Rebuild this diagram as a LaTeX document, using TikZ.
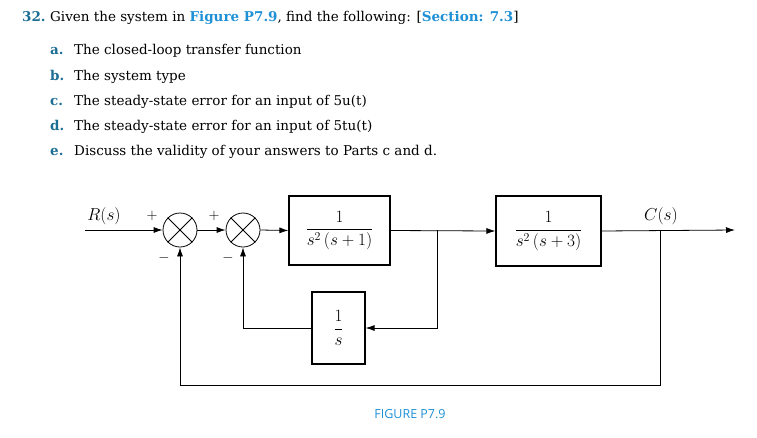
\documentclass[tikz,border=0pt]{standalone}
\usepackage{amsmath}
\usepackage{fontspec}
\setmainfont{DejaVu Serif}
\newfontfamily\sansf{Open Sans}
\newfontfamily\timesf{Liberation Serif}
\usetikzlibrary{arrows.meta}
\definecolor{lnk}{HTML}{1E90D6}
\definecolor{num}{HTML}{1C6E94}
\begin{document}
\begin{tikzpicture}[x=1pt,y=-1pt,
 blk/.style={draw,line width=1.2pt,inner sep=0pt},
 sumn/.style={draw,circle,minimum size=34pt,inner sep=0pt,line width=0.8pt},
 sig/.style={line width=0.8pt,-{Latex[length=9pt,width=6pt]}},
 ln/.style={line width=0.8pt},
 txt/.style={anchor=base west,inner sep=0pt,font=\fontsize{13.5}{15}\selectfont},
 lab/.style={anchor=base west,inner sep=0pt,text=num,font=\fontsize{13.5}{15}\selectfont\bfseries},
 eq/.style={inner sep=0pt,font=\timesf\fontsize{17}{19}\selectfont}]
\useasboundingbox (0,0) rectangle (757,437);
\node[lab] (n32) at (22,21) {32.};
\node[txt] (t0) at (50,21) {Given the system in \textcolor{lnk}{\bfseries Figure P7.9}, find the following: [\textcolor{lnk}{\bfseries Section: 7.3}]};
\node[lab] (la) at (50,54) {a.}; \node[txt] (ta) at (74,54) {The closed-loop transfer function};
\node[lab] (lb) at (50,80) {b.}; \node[txt] (tb) at (74,80) {The system type};
\node[lab] (lc) at (50,105) {c.}; \node[txt] (tc) at (74,105) {The steady-state error for an input of 5u(t)};
\node[lab] (ld) at (50,130) {d.}; \node[txt] (td) at (74,130) {The steady-state error for an input of 5tu(t)};
\node[lab] (le) at (50,155) {e.}; \node[txt] (te) at (74,155) {Discuss the validity of your answers to Parts c and d.};
% diagram
\coordinate (in) at (85,230);
\node[sumn] (s1) at (180,230) {};
\node[sumn] (s2) at (243,230) {};
\foreach \s in {s1,s2}{\draw[ln] (\s.north west)--(\s.south east) (\s.north east)--(\s.south west);}
\node[blk,minimum width=101pt,minimum height=69pt] (g1) at (339.5,230.5) {};
\node[eq] (g1t) at (339.5,230.5) {$\genfrac{}{}{0.6pt}{0}{1}{s^2\,(s+1)}$};
\node[blk,minimum width=105pt,minimum height=70pt] (g2) at (548.5,231) {};
\node[eq] (g2t) at (548.5,231) {$\genfrac{}{}{0.6pt}{0}{1}{s^2\,(s+3)}$};
\node[blk,minimum width=53pt,minimum height=72pt] (h) at (338.5,328) {};
\node[eq] (ht) at (338.5,328) {$\genfrac{}{}{0.6pt}{0}{1}{s}$};
\coordinate (out) at (735,230);
\coordinate (b1) at (437,230);
\coordinate (b2) at (660,230);
\draw[sig] (in) -- (s1.west);
\draw[sig] (s1.east) -- (s2.west);
\draw[sig] (s2.east) -- (g1.west);
\draw[sig] (g1.east) -- (g2.west);
\draw[sig] (g2.east) -- (out);
\draw[sig] (b1) |- (h.east);
\draw[sig] (h.west) -| (s2.south);
\draw[sig] (b2) |- (180,385) -- (s1.south);
\node[eq,anchor=base] (R) at (104,220) {$R(s)$};
\node[eq,anchor=base] (C) at (661,220) {$C(s)$};
\node[eq,anchor=base,font=\timesf\fontsize{14}{15}\selectfont] (p1) at (152,219) {$+$};
\node[eq,anchor=base,font=\timesf\fontsize{14}{15}\selectfont] (p2) at (214,219) {$+$};
\node[eq,anchor=base,font=\timesf\fontsize{14}{15}\selectfont] (m1) at (164,261) {$-$};
\node[eq,anchor=base,font=\timesf\fontsize{14}{15}\selectfont] (m2) at (228,261) {$-$};
\node[anchor=base,inner sep=0pt,text=lnk,font=\sansf\fontsize{12.5}{14}\selectfont] (cap) at (410,418) {FIGURE P7.9};
\end{tikzpicture}
\end{document}
